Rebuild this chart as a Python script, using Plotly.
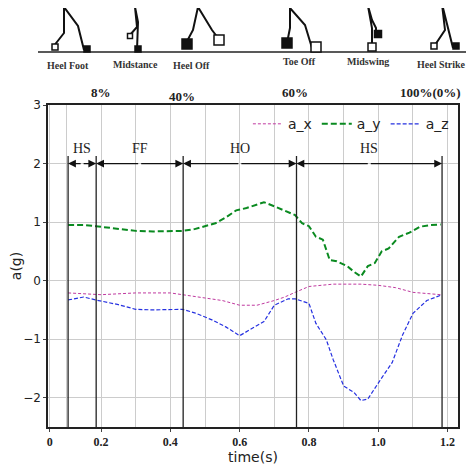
import plotly.graph_objects as go

t_x = [0.105,0.2,0.3,0.4,0.435,0.5,0.55,0.6,0.65,0.7,0.73,0.76,0.8,0.87,0.95,1.0,1.05,1.1,1.18]
a_x = [-0.21,-0.24,-0.21,-0.21,-0.24,-0.29,-0.34,-0.42,-0.42,-0.34,-0.28,-0.2,-0.1,-0.06,-0.06,-0.08,-0.12,-0.2,-0.24]
t_y = [0.105,0.15,0.185,0.25,0.3,0.35,0.4,0.435,0.47,0.5,0.53,0.56,0.59,0.62,0.65,0.67,0.7,0.73,0.76,0.78,0.8,0.82,0.84,0.86,0.88,0.91,0.93,0.95,0.97,0.99,1.01,1.03,1.06,1.09,1.12,1.15,1.18]
a_y = [0.95,0.95,0.93,0.88,0.85,0.84,0.84,0.85,0.88,0.93,0.98,1.08,1.2,1.24,1.3,1.34,1.27,1.2,1.12,0.98,0.93,0.75,0.7,0.35,0.33,0.25,0.15,0.07,0.25,0.3,0.5,0.55,0.75,0.82,0.92,0.95,0.96]
t_z = [0.105,0.15,0.185,0.25,0.3,0.35,0.435,0.47,0.52,0.56,0.6,0.63,0.67,0.7,0.74,0.76,0.8,0.82,0.85,0.87,0.9,0.93,0.95,0.97,0.99,1.01,1.04,1.07,1.1,1.14,1.18]
a_z = [-0.33,-0.28,-0.33,-0.41,-0.49,-0.5,-0.49,-0.55,-0.67,-0.79,-0.94,-0.84,-0.7,-0.42,-0.31,-0.31,-0.39,-0.73,-1.01,-1.35,-1.8,-1.91,-2.05,-2.02,-1.85,-1.66,-1.4,-0.93,-0.56,-0.34,-0.25]

phase_bounds = [0.105, 0.186, 0.437, 0.764, 1.184]
phase_labels = ["HS", "FF", "HO", "HS"]
pct_labels = ["8%", "40%", "60%", "100%(0%)"]
pct_x = [0.2, 0.435, 0.76, 1.15]
pose_labels = ["Heel Foot", "Midstance", "Heel Off", "Toe Off", "Midswing", "Heel Strike"]

L, R, T, B = 48, 458, 105, 427
OFF = 8
def px(x): return (x - L) / (R - L)
def py(y): return (B - y) / (B - T)

fig = go.Figure()
fig.add_trace(go.Scatter(x=t_x, y=a_x, name="a_x", mode="lines", line=dict(color="#c03aa0", dash="3px,2px", width=1)))
fig.add_trace(go.Scatter(x=t_y, y=a_y, name="a_y", mode="lines", line=dict(color="#0a8a20", dash="6px,3px", width=2)))
fig.add_trace(go.Scatter(x=t_z, y=a_z, name="a_z", mode="lines", line=dict(color="#2530e0", dash="4px,2px", width=1.2)))

shapes = []
for b in phase_bounds:
    shapes.append(dict(type="line", x0=b, x1=b, y0=-2.5, y1=2.13, xref="x", yref="y", line=dict(color="#222", width=1.3)))
anns = []
for i, lab in enumerate(phase_labels):
    a, b = phase_bounds[i], phase_bounds[i+1]
    m = (a + b) / 2
    for end in (a, b):
        anns.append(dict(x=end, y=2.0, ax=m, ay=2.0, xref="x", yref="y", axref="x", ayref="y", text="",
                         showarrow=True, arrowhead=2, arrowsize=1.2, arrowwidth=1.3, arrowcolor="#111"))
    anns.append(dict(x=m, y=2.25, xref="x", yref="y", text=lab, showarrow=False, xanchor="center", yanchor="middle",
                     font=dict(family="Liberation Serif", size=14, color="#222")))
pct_y = [92, 97, 92, 92]
for lab, x, yy in zip(pct_labels, pct_x, pct_y):
    anns.append(dict(x=x, y=py(yy), xref="x", yref="paper", text="<b>"+lab+"</b>", showarrow=False,
                     xanchor="center", yanchor="middle",
                     font=dict(family="Liberation Serif", size=13, color="#222")))
pose_x = [68, 135, 191, 299, 368, 441]
pose_y = [66, 64, 66, 62, 62, 64]
for lab, x, yy in zip(pose_labels, pose_x, pose_y):
    anns.append(dict(x=px(x), y=py(yy), xref="paper", yref="paper", text="<b>"+lab+"</b>", showarrow=False,
                     xanchor="center", yanchor="middle",
                     font=dict(family="Liberation Serif", size=10, color="#333")))

shapes.append(dict(type="line", xref="paper", yref="paper", x0=px(38), x1=px(470), y0=py(52), y1=py(52), line=dict(color="#222", width=1.5)))
legs = [
    [(53,47),(64,33),(64,7),(78,26),(84,50)],
    [(130,35),(137,27),(135,7),(138,22),(137,50)],
    [(185,45),(193,30),(198,7),(212,30),(218,38)],
    [(287,43),(290,28),(290,8),(305,25),(312,48)],
    [(372,45),(372,28),(368,6),(372,20),(376,28),(376,33)],
    [(435,45),(445,30),(442,4),(447,24),(453,48)],
]
for pts in legs:
    path = "M " + " L ".join(f"{px(x)},{py(y)}" for x, y in pts)
    shapes.append(dict(type="path", xref="paper", yref="paper", path=path, line=dict(color="#111", width=2)))
feet = [(55,47,3,False),(87,49,3,True),(130,36,2.5,False),(138,49,3,True),(187,44,5,True),(219,40,5,False),
        (287,43,5,True),(316,47,5,False),(378,34,3.5,True),(372,47,4,False),(434,46,3,False),(456,46,3,True)]
for x, y, s, filled in feet:
    shapes.append(dict(type="rect", xref="paper", yref="paper", x0=px(x-s), x1=px(x+s), y0=py(y+s), y1=py(y-s),
                       line=dict(color="#111", width=1.5), fillcolor="#111" if filled else "white"))

W, H = 474 - OFF, 471 - OFF
fig.update_layout(
    width=W, height=H, margin=dict(l=L-OFF, r=W-(R-OFF), t=T-OFF, b=H-(B-OFF)),
    plot_bgcolor="white", paper_bgcolor="white", shapes=shapes, annotations=anns,
    legend=dict(orientation="h", x=0.99, xanchor="right", y=0.99, yanchor="top", bgcolor="rgba(0,0,0,0)",
                font=dict(family="DejaVu Sans", size=14, color="#222")),
    xaxis=dict(range=[0.047, 1.23], tickvals=[0.052,0.2,0.4,0.6,0.8,1.0,1.2], ticktext=["<b>0</b>","<b>0.2</b>","<b>0.4</b>","<b>0.6</b>","<b>0.8</b>","<b>1.0</b>","<b>1.2</b>"],
               tickfont=dict(family="Liberation Serif", size=12, color="#222"), showgrid=True, gridcolor="#ccc",
               minor=dict(dtick=0.1, tick0=0, showgrid=True, gridcolor="#ccc"), automargin=False,
               showline=True, linecolor="#222", linewidth=1.5, mirror=True, ticks="outside", ticklen=3,
               title=dict(text="time(s)", font=dict(family="DejaVu Sans", size=14, color="#222"), standoff=4), zeroline=False),
    yaxis=dict(range=[-2.5, 3], tickvals=[-2,-1,0,1,2,3], showgrid=True, gridcolor="#ccc",
               tickfont=dict(family="DejaVu Sans", size=12, color="#222"), automargin=False,
               showline=True, linecolor="#222", linewidth=1.5, mirror=True, ticks="outside", ticklen=3,
               title=dict(text="a(g)", font=dict(family="DejaVu Sans", size=14, color="#222"), standoff=4), zeroline=False),
)
fig.write_html("out.html")
